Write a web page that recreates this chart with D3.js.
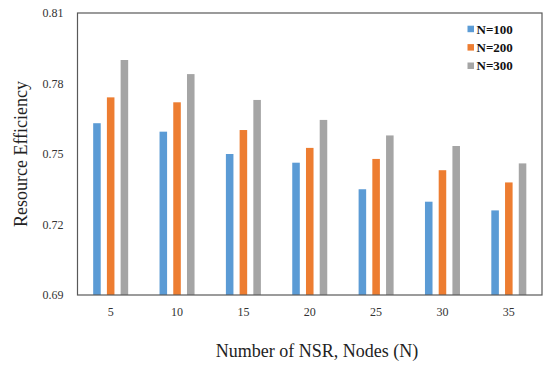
<!DOCTYPE html>
<html><head><meta charset="utf-8">
<script src="https://cdn.jsdelivr.net/npm/d3@7"></script>
<style>html,body{margin:0;padding:0;background:#fff;}</style>
</head><body><div id="chart"></div>
<script>
const categories = ["5","10","15","20","25","30","35"];
const seriesNames = ["N=100","N=200","N=300"];
const n100 = [0.7631,0.7595,0.7500,0.7463,0.7350,0.7297,0.7260];
const n200 = [0.7741,0.7720,0.7602,0.7526,0.7479,0.7431,0.7379];
const n300 = [0.7900,0.7840,0.7730,0.7645,0.7579,0.7534,0.7460];
const yTicks = [0.69,0.72,0.75,0.78,0.81];
const colors = ["#5B9BD5","#ED7D31","#A5A5A5"];
const series = [n100,n200,n300];

const W=550,H=365;
const m={l:77.5,r:8,t:13,b:70};
const svg=d3.select("#chart").append("svg").attr("width",W).attr("height",H);
const x=d3.scaleBand().domain(categories).range([m.l,W-m.r]);
const y=d3.scaleLinear().domain([0.69,0.81]).range([H-m.b,m.t]);
const sub=d3.scaleBand().domain(seriesNames).range([-17.5,17.5]).paddingInner(0.45);

series.forEach((vals,si)=>{
  svg.append("g").selectAll("rect").data(vals).join("rect")
    .attr("x",(d,i)=>x(categories[i])+x.bandwidth()/2+sub(seriesNames[si]))
    .attr("width",sub.bandwidth())
    .attr("y",d=>y(d))
    .attr("height",d=>y(0.69)-y(d))
    .attr("fill",colors[si]);
});

svg.append("rect").attr("x",m.l).attr("y",m.t).attr("width",W-m.r-m.l).attr("height",H-m.b-m.t)
  .attr("fill","none").attr("stroke","#595959").attr("stroke-width",1.2);

const font="'Liberation Serif','Times New Roman',serif";
const ya=svg.append("g").attr("transform",`translate(${m.l},0)`)
  .call(d3.axisLeft(y).tickValues(yTicks).tickFormat(d3.format(".2f")).tickSize(0).tickPadding(14));
ya.select(".domain").remove();
ya.selectAll("text").attr("font-family",font).attr("font-size",12).attr("fill","#333");

const xa=svg.append("g").attr("transform",`translate(0,${H-m.b})`)
  .call(d3.axisBottom(x).tickSize(0).tickPadding(12));
xa.select(".domain").remove();
xa.selectAll("text").attr("font-family",font).attr("font-size",12).attr("fill","#333");

svg.append("text").attr("transform",`translate(27,${(m.t+H-m.b)/2}) rotate(-90)`)
  .attr("text-anchor","middle").attr("font-family",font).attr("font-size",18).attr("fill","#222")
  .text("Resource Efficiency");
svg.append("text").attr("x",317).attr("y",357).attr("text-anchor","middle")
  .attr("font-family",font).attr("font-size",18).attr("fill","#222")
  .text("Number of NSR, Nodes (N)");

const lg=svg.append("g");
seriesNames.forEach((s,i)=>{
  const cy=29+i*18.4;
  lg.append("rect").attr("x",467.5).attr("y",cy-3.3).attr("width",6.5).attr("height",6.5).attr("fill",colors[i]);
  lg.append("text").attr("x",476.5).attr("y",cy+4.5).attr("font-family",font).attr("font-weight","bold")
    .attr("font-size",13).attr("fill","#111").text(s);
});
</script></body></html>
